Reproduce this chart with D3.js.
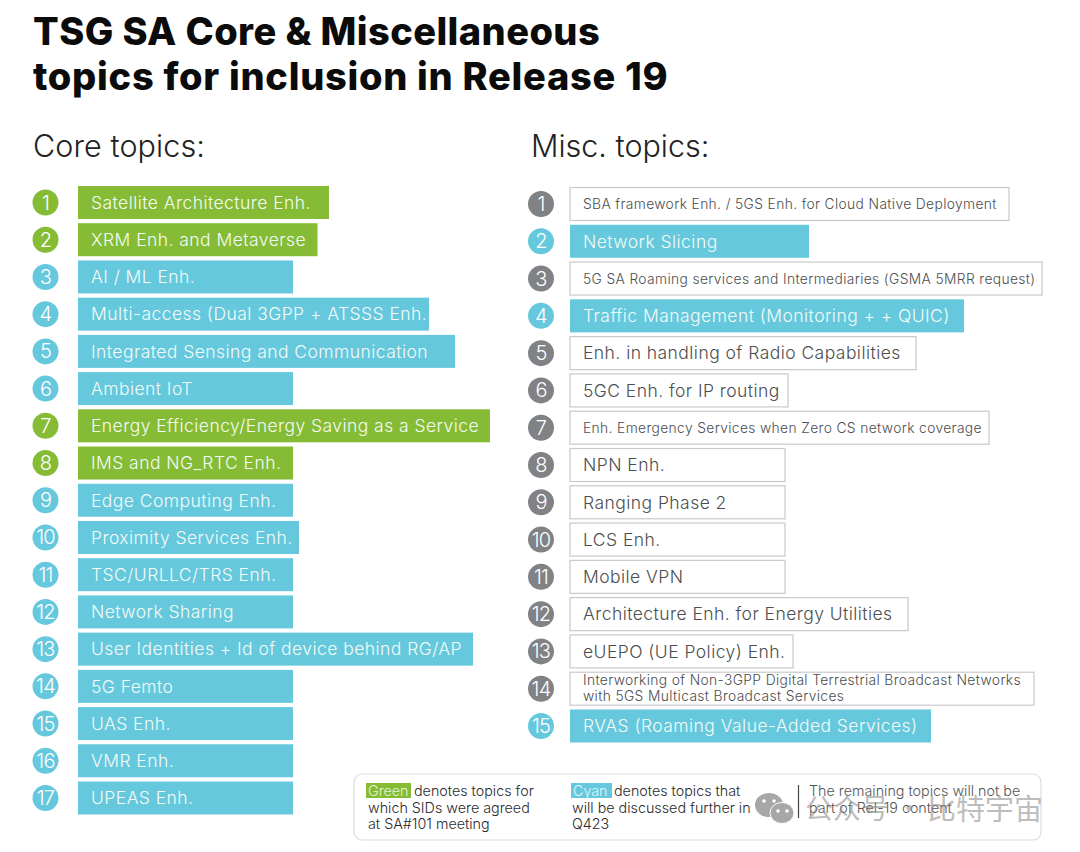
<!DOCTYPE html>
<html><head><meta charset="utf-8">
<style>html,body{margin:0;padding:0;background:#fff}svg{display:block}text{font-family:Inter,"Noto Sans",sans-serif}</style>
<script src="https://cdn.jsdelivr.net/npm/d3@7"></script></head><body>
<svg id="c" width="1080" height="852"></svg>
<script>
const coreTopics=["Satellite Architecture Enh.","XRM Enh. and Metaverse","AI / ML Enh.","Multi-access (Dual 3GPP + ATSSS Enh.","Integrated Sensing and Communication","Ambient IoT","Energy Efficiency/Energy Saving as a Service","IMS and NG_RTC Enh.","Edge Computing Enh.","Proximity Services Enh.","TSC/URLLC/TRS Enh.","Network Sharing","User Identities + Id of device behind RG/AP","5G Femto","UAS Enh.","VMR Enh.","UPEAS Enh."];
const coreStatus=["g","g","c","c","c","c","g","g","c","c","c","c","c","c","c","c","c"];
const coreLen=[251,239.5,215,351,377,215,412,215,215,221,215,215,395,215,215,215,215];
const miscTopics=["SBA framework Enh. / 5GS Enh. for Cloud Native Deployment","Network Slicing","5G SA Roaming services and Intermediaries (GSMA 5MRR request)","Traffic Management (Monitoring + + QUIC)","Enh. in handling of Radio Capabilities","5GC Enh. for IP routing","Enh. Emergency Services when Zero CS network coverage","NPN Enh.","Ranging Phase 2","LCS Enh.","Mobile VPN","Architecture Enh. for Energy Utilities","eUEPO (UE Policy) Enh.","Interworking of Non-3GPP Digital Terrestrial Broadcast Networks|with 5GS Multicast Broadcast Services","RVAS (Roaming Value-Added Services)"];
const miscStatus=["n","c","n","c","n","n","n","n","n","n","n","n","n","n","c"];
const miscLen=[439,239,472,394,346,218,419,215,215,215,215,338,223,464,361];
const miscSize=[13.8,17.5,13.8,17.5,17.5,17.5,13.8,17.5,17.5,17.5,17.5,17.5,17.5,13.8,17.5];
const titleLines=["TSG SA Core & Miscellaneous","topics for inclusion in Release 19"];
const legendGreen=["Green","denotes topics for","which SIDs were agreed","at SA#101 meeting"];
const legendCyan=["Cyan","denotes topics that","will be discussed further in","Q423"];
const legendRest=["The remaining topics will not be","part of Rel-19 content"];

const GREEN="#86bc35",CYAN="#66c8dd",GREY="#808285";
const fill={g:GREEN,c:CYAN,n:GREY};
const svg=d3.select("#c");
titleLines.forEach((t,i)=>svg.append("text").attr("x",33).attr("y",[45,90][i]).attr("font-size",38).attr("font-weight",800).attr("fill","#0b0b0b").attr("letter-spacing",[.42,.72][i]).text(t));
svg.append("text").attr("x",33).attr("y",157).attr("font-size",30.5).attr("font-weight",300).attr("fill","#222").attr("letter-spacing",.1).text("Core topics:");
svg.append("text").attr("x",531).attr("y",157).attr("font-size",30.5).attr("font-weight",300).attr("fill","#222").text("Misc. topics:");

function list(topics,status,len,opt){
  const y=d3.scalePoint().domain(d3.range(topics.length)).range(opt.yr);
  const w=d3.scaleLinear().domain([0,500]).range([0,500]);
  const g=svg.append("g").selectAll("g").data(topics).join("g").attr("transform",(d,i)=>`translate(0,${y(i)})`);
  g.append("circle").attr("cx",opt.cx).attr("cy",0).attr("r",13).attr("fill",(d,i)=>fill[status[i]]);
  g.append("text").attr("x",opt.cx).attr("y",7).attr("text-anchor","middle").attr("fill","#fff").attr("font-size",20).attr("font-weight",300).attr("letter-spacing",-.8).text((d,i)=>i+1);
  g.append("rect").attr("x",opt.x).attr("y",-16.5).attr("width",(d,i)=>w(len[i])).attr("height",33)
    .attr("fill",(d,i)=>status[i]=="n"?"#fff":fill[status[i]]).attr("stroke",(d,i)=>status[i]=="n"?"#c9c9c9":"none").attr("stroke-width",1.2);
  g.each(function(d,i){
    const parts=d.split("|"),fs=opt.size?opt.size[i]:17.5;
    parts.forEach((p,k)=>d3.select(this).append("text").attr("x",opt.x+13).attr("y",parts.length>1?(k==0?-4:12):fs*.36)
      .attr("font-size",fs).attr("font-weight",300).attr("letter-spacing",fs>15?.45:.37).attr("fill",status[i]=="n"?"#4c4e50":"#f2fbf7").text(p));
  });
}
list(coreTopics,coreStatus,coreLen,{yr:[202.5,798],cx:45.5,x:78});
list(miscTopics,miscStatus,miscLen,{yr:[204,726],cx:541,x:570,size:miscSize});

// legend
const L=svg.append("g");
L.append("rect").attr("x",354).attr("y",774).attr("width",687).attr("height",66).attr("rx",8).attr("fill","#fff").attr("stroke","#ddd").attr("stroke-width",1.2);
L.append("rect").attr("x",366).attr("y",783).attr("width",45).attr("height",15).attr("fill",GREEN);
L.append("rect").attr("x",571).attr("y",783).attr("width",41).attr("height",15).attr("fill",CYAN);
const ls=(x,y,t,f)=>L.append("text").attr("x",x).attr("y",y).attr("font-size",14.3).attr("font-weight",300).attr("fill",f||"#2a2a2a").text(t);
ls(368,796,legendGreen[0],"#e2f3cf");ls(414,796,legendGreen[1]);ls(368,812.5,legendGreen[2]);ls(368,829,legendGreen[3]);
ls(573,796,legendCyan[0],"#e0f5f9");ls(614,796,legendCyan[1]);ls(572,812.5,legendCyan[2]);ls(572,829,legendCyan[3]);
ls(809,796,legendRest[0],"#555");ls(809,812.5,legendRest[1],"#555");
L.append("line").attr("x1",798.5).attr("x2",798.5).attr("y1",785).attr("y2",818).attr("stroke","#444").attr("stroke-width",1.2);

// watermark
const W=svg.append("g").attr("fill","#8a8a8a").attr("opacity",.75);
W.append("ellipse").attr("cx",769).attr("cy",805).attr("rx",14).attr("ry",12);
W.append("ellipse").attr("cx",782).attr("cy",813).attr("rx",12).attr("ry",10.5).attr("stroke","#fff").attr("stroke-width",1);
W.selectAll(".d").data([[764,801],[774,801],[778,811],[787,811]]).join("circle").attr("cx",d=>d[0]).attr("cy",d=>d[1]).attr("r",1.8).attr("fill","#fff");
W.append("text").attr("x",805).attr("y",819).attr("font-size",28).style("font-family","'Noto Sans CJK SC'").attr("opacity",.75).text("公众号 ·");
W.append("text").attr("x",927).attr("y",820).attr("font-size",29).style("font-family","'Noto Sans CJK SC'").attr("opacity",.75).text("比特宇宙");
</script></body></html>
